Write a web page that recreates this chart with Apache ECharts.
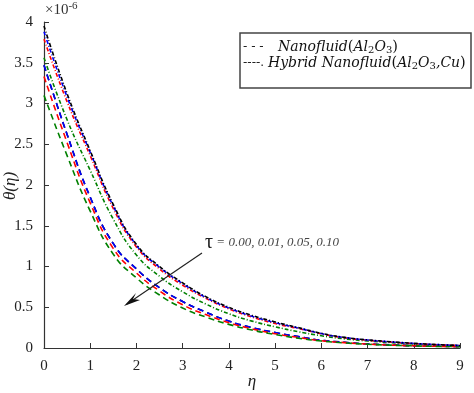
<!DOCTYPE html>
<html><head><meta charset="utf-8">
<script src="https://cdn.jsdelivr.net/npm/echarts@6/dist/echarts.min.js"></script>
<style>html,body{margin:0;padding:0;background:#fff}#c{width:474px;height:393px}</style>
</head><body><div id="c"></div>
<script>
// eta grid and theta values (units of 1e-6)
const eta = [0,0.5,1,1.5,2,2.5,3,3.5,4,4.5,5,5.5,6,6.5,7,7.5,8,8.5,9];
const xTicks = [0,1,2,3,4,5,6,7,8,9];
const yTicks = [0,0.5,1,1.5,2,2.5,3,3.5,4];
const tauLabels = ['0.00','0.01','0.05','0.10'];
// Nanofluid (Al2O3) — dashed
const nanoBlack = [3.47,2.62,1.85,1.28,0.97,0.74,0.57,0.44,0.33,0.25,0.19,0.14,0.095,0.07,0.05,0.038,0.028,0.022,0.018];
const nanoBlue  = [3.47,2.62,1.85,1.28,0.97,0.74,0.57,0.44,0.33,0.25,0.19,0.14,0.095,0.07,0.05,0.038,0.028,0.022,0.018];
const nanoRed   = [3.33,2.52,1.78,1.22,0.92,0.70,0.53,0.41,0.31,0.235,0.175,0.13,0.09,0.066,0.048,0.036,0.027,0.021,0.017];
const nanoGreen = [3.10,2.36,1.68,1.15,0.86,0.65,0.49,0.38,0.29,0.22,0.165,0.12,0.085,0.063,0.046,0.035,0.026,0.02,0.017];
// Hybrid Nanofluid (Al2O3, Cu) — dash-dot
const hybBlack = [3.95,3.12,2.42,1.76,1.27,1.00,0.80,0.63,0.50,0.40,0.32,0.25,0.18,0.13,0.10,0.077,0.057,0.042,0.03];
const hybBlue  = [3.88,3.08,2.40,1.74,1.26,0.99,0.79,0.62,0.49,0.39,0.31,0.245,0.177,0.128,0.098,0.075,0.056,0.041,0.03];
const hybRed   = [3.79,3.02,2.36,1.71,1.24,0.97,0.77,0.61,0.48,0.38,0.30,0.24,0.173,0.125,0.095,0.073,0.054,0.04,0.03];
const hybGreen = [3.56,2.80,2.18,1.58,1.14,0.88,0.69,0.54,0.42,0.33,0.26,0.20,0.15,0.112,0.086,0.066,0.05,0.038,0.028];

const pairs = a => eta.map((x,i)=>[x,a[i]]);
const NANO = [6,4], HYB = [4,2,1,2];
function line(name, data, color, dash){
  return {name, type:'line', data:pairs(data), smooth:true, showSymbol:false, symbol:'none',
    lineStyle:{color, width:1.6, type:dash}, z:2};
}
const serif = 'Liberation Serif';
const chart = echarts.init(document.getElementById('c'));
chart.setOption({
  animation:false,
  grid:{left:44, right:14, top:22, bottom:45, containLabel:false, outerBoundsMode:'none'},
  xAxis:{type:'value', min:0, max:9, interval:1,
    axisLine:{lineStyle:{color:'#333', width:1.2}},
    axisTick:{inside:true, length:5, lineStyle:{color:'#333'}},
    axisLabel:{color:'#222', fontFamily:serif, fontSize:15, margin:11, formatter:v=>xTicks.includes(v)?String(v):''},
    splitLine:{show:false}},
  yAxis:{type:'value', min:0, max:4, interval:0.5,
    axisLine:{show:true, lineStyle:{color:'#333', width:1.2}},
    axisTick:{show:true, inside:true, length:5, lineStyle:{color:'#333'}},
    axisLabel:{color:'#222', fontFamily:serif, fontSize:15, margin:11, formatter:v=>yTicks.includes(v)?String(v):''},
    splitLine:{show:false}},
  series:[
    line('nanoBlack', nanoBlack, '#000000', NANO),
    line('nanoBlue', nanoBlue, '#0000ff', NANO),
    line('nanoRed', nanoRed, '#ff0000', NANO),
    line('nanoGreen', nanoGreen, '#008000', NANO),
    line('hybGreen', hybGreen, '#008000', HYB),
    line('hybRed', hybRed, '#ff0000', HYB),
    line('hybBlue', hybBlue, '#0000ff', HYB),
    line('hybBlack', hybBlack, '#000000', HYB)
  ],
  graphic:[
    {type:'text', x:252, y:382, style:{text:'η', fontFamily:serif, fontStyle:'italic', fontSize:17, fill:'#222', align:'center', verticalAlign:'middle'}},
    {type:'text', x:11, y:186, rotation:Math.PI/2, style:{text:'θ(η)', fontFamily:serif, fontStyle:'italic', fontSize:17, fill:'#222', align:'center', verticalAlign:'middle'}},
    {type:'text', left:45, top:1, style:{
      text:'{a|×10}{s|-6}', rich:{a:{fontFamily:serif,fontSize:15,fill:'#333'}, s:{fontFamily:serif,fontSize:11,fill:'#333', verticalAlign:'top', padding:[0,0,8,0]}}}},
    {type:'rect', shape:{x:240, y:33, width:231, height:55}, style:{fill:'#fff', stroke:'#444', lineWidth:1.5}, z:10},
    {type:'text', x:243, y:39, z:11, style:{
      text:'{d|- - -}{t|Nanofluid}{p|(}{t|Al}{b|2}{t|O}{b|3}{p|)}',
      rich:{d:{fontFamily:'DejaVu Sans',fontSize:12,fill:'#222',width:35}, t:{fontFamily:'DejaVu Serif',fontStyle:'italic',fontSize:14,fill:'#111'},
            p:{fontFamily:'DejaVu Serif',fontSize:14.5,fill:'#111'}, b:{fontFamily:'DejaVu Serif',fontSize:10,fill:'#111',verticalAlign:'bottom',padding:[6,0,0,0]}}}},
    {type:'text', x:243, y:55, z:11, style:{
      text:'{d|----.}{t|Hybrid Nanofluid}{p|(}{t|Al}{b|2}{t|O}{b|3}{t|,Cu}{p|)}',
      rich:{d:{fontFamily:'DejaVu Sans',fontSize:12,fill:'#222',width:25}, t:{fontFamily:'DejaVu Serif',fontStyle:'italic',fontSize:14,fill:'#111'},
            p:{fontFamily:'DejaVu Serif',fontSize:14.5,fill:'#111'}, b:{fontFamily:'DejaVu Serif',fontSize:10,fill:'#111',verticalAlign:'bottom',padding:[6,0,0,0]}}}},
    {type:'text', x:205, y:233, z:11, style:{
      text:'{t|τ} {e|= '+tauLabels.join(', ')+'}',
      rich:{t:{fontFamily:serif,fontSize:20,fill:'#222'}, e:{fontFamily:serif,fontStyle:'italic',fontSize:13,fill:'#444'}}}},
    {type:'line', shape:{x1:202, y1:253, x2:127, y2:304}, style:{stroke:'#222', lineWidth:1.2}, z:11},
    {type:'polygon', shape:{points:[[124,306],[136,293],[133,299],[140,300]]}, style:{fill:'#111'}, z:11}
  ]
});
</script></body></html>
